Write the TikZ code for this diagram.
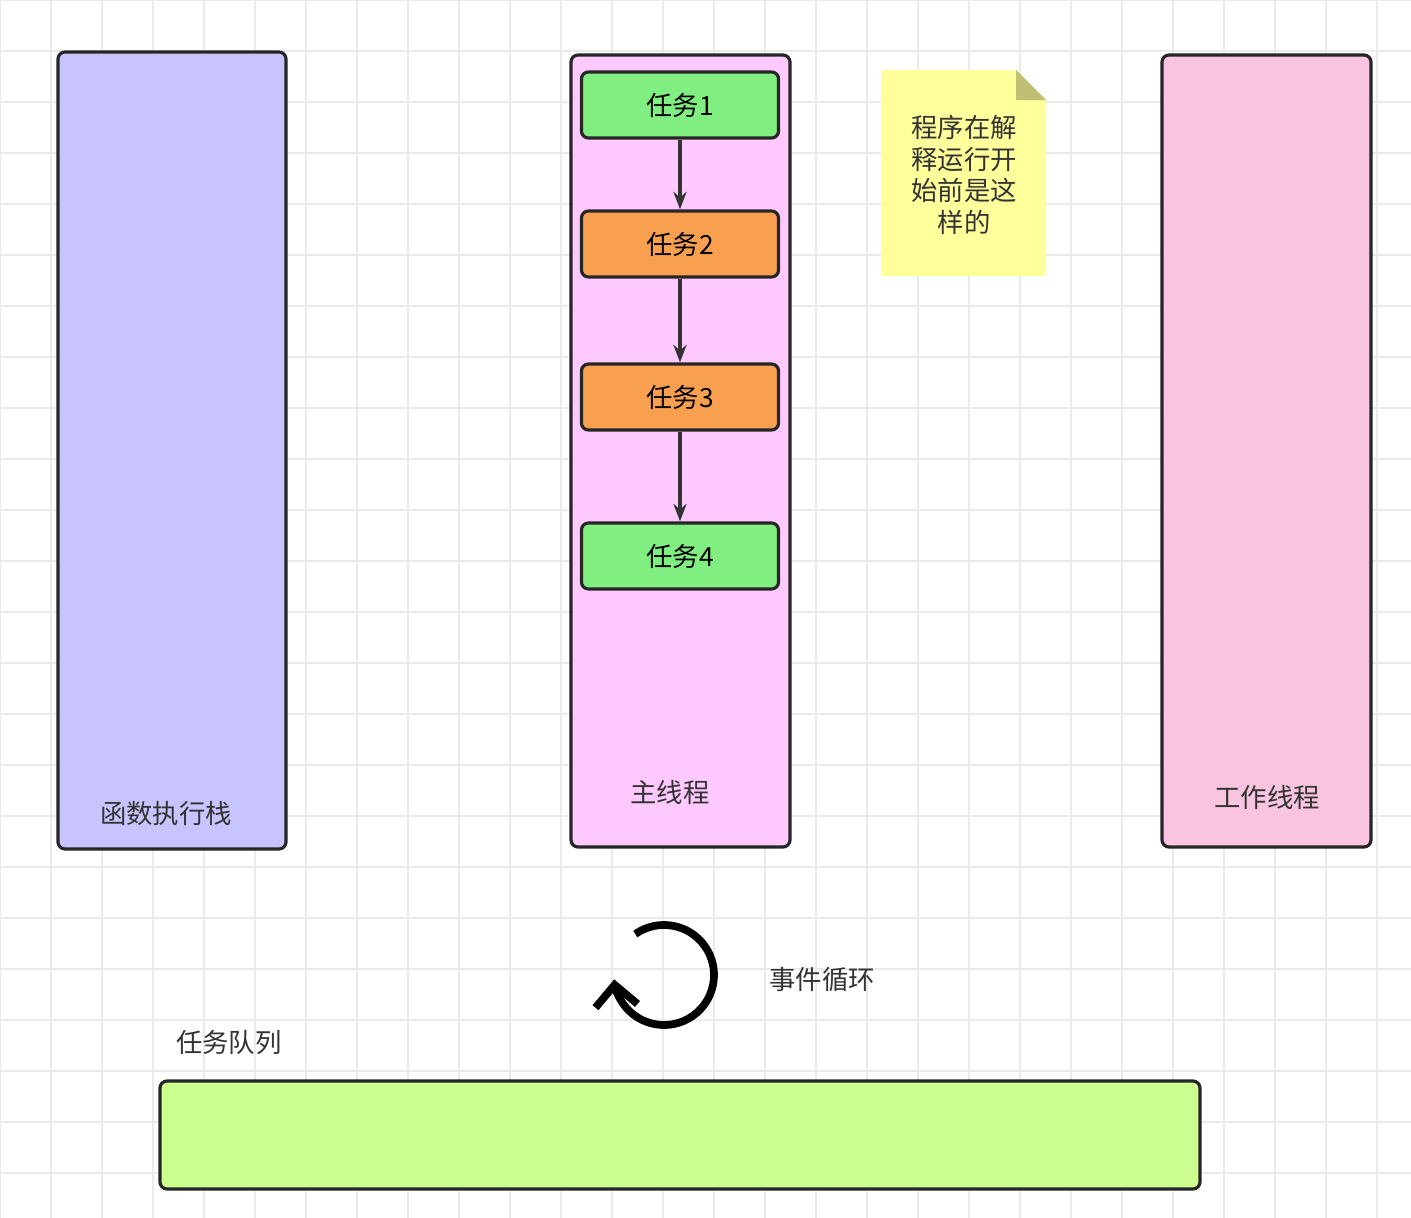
\documentclass[tikz,border=0pt]{standalone}
\usepackage{fontspec}
\setmainfont{Noto Sans CJK SC}
\usetikzlibrary{arrows.meta}
\definecolor{stackfill}{HTML}{C8C4FF}
\definecolor{mainfill}{HTML}{FFC8FF}
\definecolor{workfill}{HTML}{F9C4E0}
\definecolor{taskgreen}{HTML}{80EE80}
\definecolor{taskorange}{HTML}{F8A050}
\definecolor{notefill}{HTML}{FFFF9C}
\definecolor{queuefill}{HTML}{CCFF90}
\definecolor{gridgray}{HTML}{EAEAEA}
\tikzset{
	lane/.style={draw=black!85, line width=0.9pt, rounded corners=2pt},
	task/.style={draw=black!85, line width=0.9pt, rounded corners=2pt, minimum width=1.97cm, minimum height=0.66cm, font=\fontsize{7.5}{9}\selectfont},
	lbl/.style={font=\fontsize{7.5}{9}\selectfont, text=black!80},
	link/.style={draw=black!80, line width=0.9pt, -{Stealth[length=5pt]}}
}
\begin{document}
\begin{tikzpicture}[x=0.01cm, y=-0.01cm]
\useasboundingbox (0,0) rectangle (1411,1218);
\fill[white] (0,0) rectangle (1411,1218);
\foreach \g in {0,51,...,1411}{
	\draw[gridgray, line width=0.4pt] (\g,0) -- (\g,1218);
}
\foreach \g in {0,51,...,1218}{
	\draw[gridgray, line width=0.4pt] (0,\g) -- (1411,\g);
}
% lanes
\draw[lane, fill=stackfill] (58,52) rectangle (286,849);
\draw[lane, fill=mainfill] (571,55) rectangle (790,847);
\draw[lane, fill=workfill] (1162,55) rectangle (1371,847);
\node[lbl] (stack) at (166,814) {函数执行栈};
\node[lbl] (mainlbl) at (670,792) {主线程};
\node[lbl] (worklbl) at (1267,797) {工作线程};
% tasks
\node[task, fill=taskgreen] (t1) at (680,105) {任务1};
\node[task, fill=taskorange] (t2) at (680,244) {任务2};
\node[task, fill=taskorange] (t3) at (680,397) {任务3};
\node[task, fill=taskgreen] (t4) at (680,556) {任务4};
\draw[link] (t1) -- (t2);
\draw[link] (t2) -- (t3);
\draw[link] (t3) -- (t4);
% note
\fill[notefill] (881,70) -- (1016,70) -- (1046,100) -- (1046,276) -- (881,276) -- cycle;
\fill[black!25!notefill] (1016,70) -- (1046,100) -- (1016,100) -- cycle;
\node[lbl, align=center] (note) at (964,175) {程序在解\\释运行开\\始前是这\\样的};
% event loop
\coordinate (loop) at (664,975);
\draw[line width=2.2pt, -{Straight Barb[length=6pt]}] (loop) ++(235:50) arc (235:535:50);
\node[lbl, anchor=west] (looplbl) at (757,980) {事件循环};
% queue
\node[lbl] (queuelbl) at (229,1043) {任务队列};
\draw[lane, fill=queuefill] (160,1081) rectangle (1200,1189);
\end{tikzpicture}
\end{document}
